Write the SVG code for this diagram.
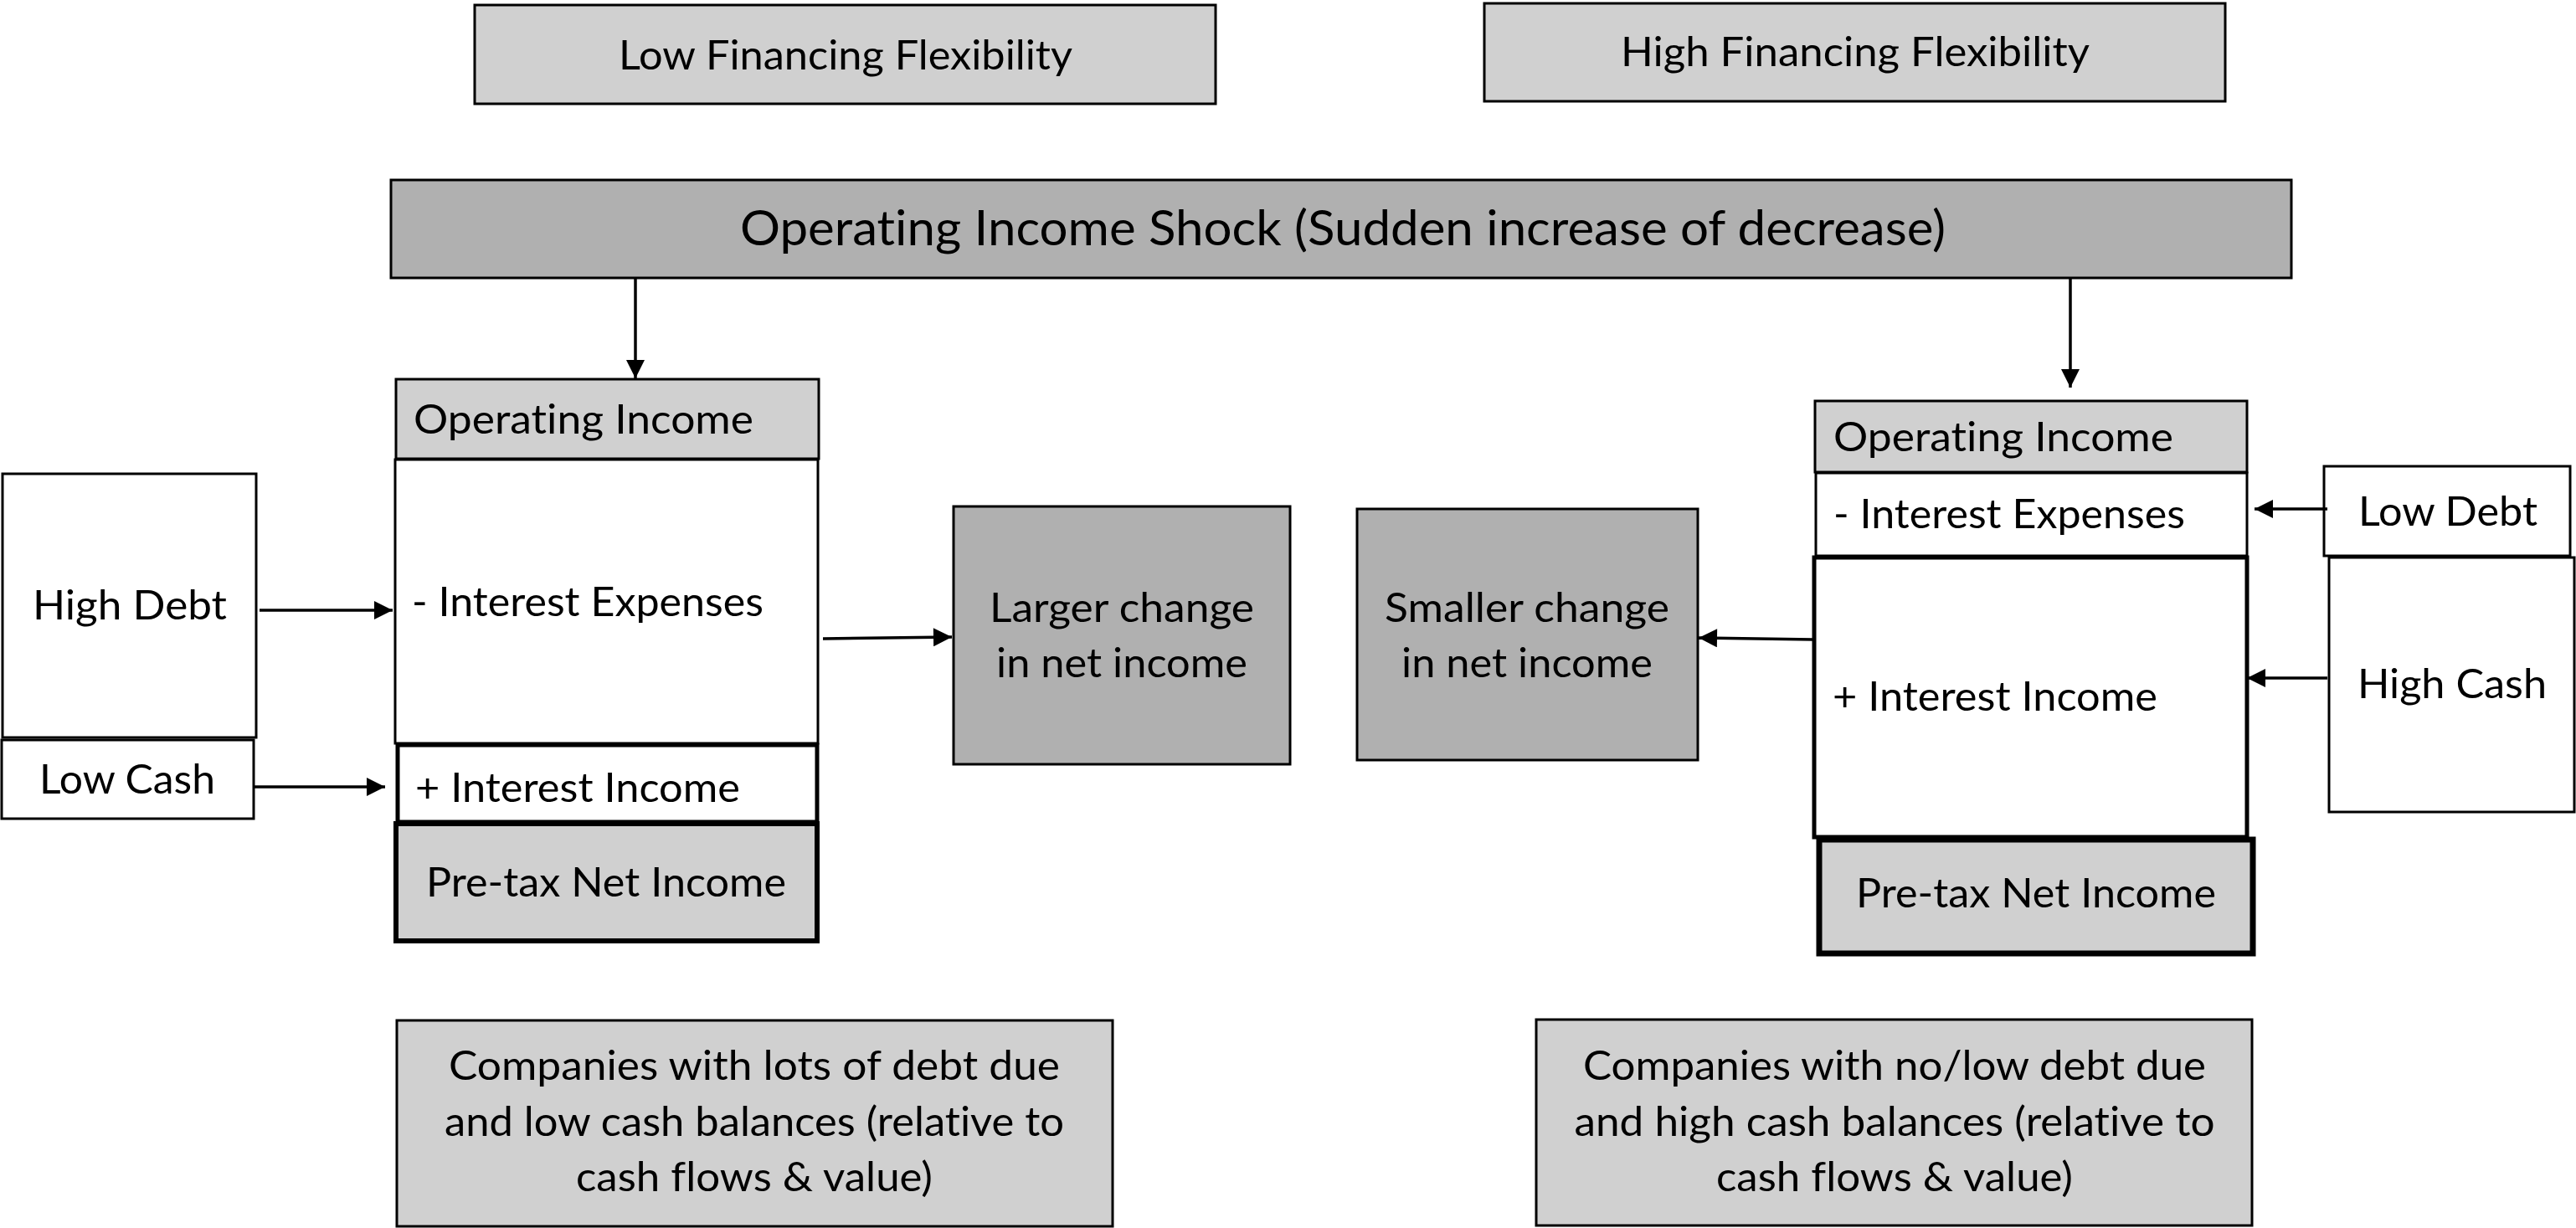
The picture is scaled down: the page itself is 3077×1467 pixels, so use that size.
<svg xmlns="http://www.w3.org/2000/svg" width="3077" height="1467" viewBox="0 0 3077 1467">
<defs>
<style>
text{font-family:Lato,"Noto Sans","Liberation Sans",sans-serif;fill:#000;font-size:48px;font-variant-ligatures:none}
.c{text-anchor:middle}
.lg{fill:#d0d0d0;stroke:#000;stroke-width:3}
.dg{fill:#b0b0b0;stroke:#000;stroke-width:3}
.w{fill:#fff;stroke:#000;stroke-width:3}
.conn{stroke:#000;stroke-width:3.5;fill:none;marker-end:url(#ah)}
</style>
<marker id="ah" viewBox="0 0 10 10" refX="10" refY="5" markerWidth="30" markerHeight="22" markerUnits="userSpaceOnUse" orient="auto">
<path d="M0,0 L10,5 L0,10 z" fill="#000"/>
</marker>
</defs>
<rect width="3077" height="1467" fill="#fff"/>

<g id="low-flex"><rect class="lg" x="567" y="6" width="885" height="118"/><text class="c" x="1010" y="83" textLength="542" lengthAdjust="spacingAndGlyphs">Low Financing Flexibility</text></g>
<g id="high-flex"><rect class="lg" x="1773" y="4" width="885" height="117"/><text class="c" x="2216" y="79" textLength="560" lengthAdjust="spacingAndGlyphs">High Financing Flexibility</text></g>
<g id="shock"><rect class="dg" x="467" y="215" width="2270" height="117"/><text class="c" x="1604" y="293" style="font-size:58px" textLength="1440" lengthAdjust="spacingAndGlyphs">Operating Income Shock (Sudden increase of decrease)</text></g>

<g id="l-opinc"><rect class="lg" x="473" y="453" width="505" height="95"/><text x="494" y="518" textLength="406" lengthAdjust="spacingAndGlyphs">Operating Income</text></g>
<g id="l-intexp"><rect class="w" x="472" y="549" width="505" height="339"/><text x="492" y="736" textLength="420" lengthAdjust="spacingAndGlyphs">- Interest Expenses</text></g>
<g id="l-intinc"><rect class="w" style="stroke-width:5" x="475" y="890" width="501" height="92"/><text x="496" y="958" textLength="388" lengthAdjust="spacingAndGlyphs">+ Interest Income</text></g>
<g id="l-pretax"><rect class="lg" style="stroke-width:6" x="473" y="984" width="503" height="140"/><text class="c" x="724" y="1071" textLength="430" lengthAdjust="spacingAndGlyphs">Pre-tax Net Income</text></g>

<g id="high-debt"><rect class="w" x="3" y="566" width="303" height="315"/><text class="c" x="155" y="740" textLength="232" lengthAdjust="spacingAndGlyphs">High Debt</text></g>
<g id="low-cash"><rect class="w" x="2" y="884" width="301" height="94"/><text class="c" x="152" y="948" textLength="210" lengthAdjust="spacingAndGlyphs">Low Cash</text></g>

<g id="larger"><rect class="dg" x="1139" y="605" width="402" height="308"/><text class="c" x="1340" y="743" textLength="316" lengthAdjust="spacingAndGlyphs">Larger change</text><text class="c" x="1340" y="809" textLength="300" lengthAdjust="spacingAndGlyphs">in net income</text></g>
<g id="smaller"><rect class="dg" x="1621" y="608" width="407" height="300"/><text class="c" x="1824" y="743" textLength="340" lengthAdjust="spacingAndGlyphs">Smaller change</text><text class="c" x="1824" y="809" textLength="300" lengthAdjust="spacingAndGlyphs">in net income</text></g>

<g id="r-opinc"><rect class="lg" x="2168" y="479" width="516" height="85"/><text x="2190" y="539" textLength="406" lengthAdjust="spacingAndGlyphs">Operating Income</text></g>
<g id="r-intexp"><rect class="w" x="2169" y="565" width="515" height="99"/><text x="2190" y="631" textLength="420" lengthAdjust="spacingAndGlyphs">- Interest Expenses</text></g>
<g id="r-intinc"><rect class="w" style="stroke-width:5" x="2167" y="666" width="517" height="334"/><text x="2189" y="849" textLength="388" lengthAdjust="spacingAndGlyphs">+ Interest Income</text></g>
<g id="r-pretax"><rect class="lg" style="stroke-width:7" x="2173" y="1003" width="518" height="136"/><text class="c" x="2432" y="1084" textLength="430" lengthAdjust="spacingAndGlyphs">Pre-tax Net Income</text></g>

<g id="low-debt"><rect class="w" x="2776" y="557" width="294" height="107"/><text class="c" x="2924" y="628" textLength="214" lengthAdjust="spacingAndGlyphs">Low Debt</text></g>
<g id="high-cash"><rect class="w" x="2782" y="666" width="293" height="304"/><text class="c" x="2929" y="834" textLength="226" lengthAdjust="spacingAndGlyphs">High Cash</text></g>

<g id="bl-note"><rect class="lg" x="474" y="1219" width="855" height="246"/><text class="c" x="901" y="1290" textLength="730" lengthAdjust="spacingAndGlyphs">Companies with lots of debt due</text><text class="c" x="901" y="1357" textLength="740" lengthAdjust="spacingAndGlyphs">and low cash balances (relative to</text><text class="c" x="901" y="1423" textLength="426" lengthAdjust="spacingAndGlyphs">cash flows &amp; value)</text></g>
<g id="br-note"><rect class="lg" x="1835" y="1218" width="855" height="246"/><text class="c" x="2263" y="1290" textLength="744" lengthAdjust="spacingAndGlyphs">Companies with no/low debt due</text><text class="c" x="2263" y="1357" textLength="765" lengthAdjust="spacingAndGlyphs">and high cash balances (relative to</text><text class="c" x="2263" y="1423" textLength="426" lengthAdjust="spacingAndGlyphs">cash flows &amp; value)</text></g>

<g id="connectors">
<line class="conn" x1="759" y1="332" x2="759" y2="452"/>
<line class="conn" x1="2473" y1="332" x2="2473" y2="463"/>
<line class="conn" x1="310" y1="729" x2="469" y2="729"/>
<line class="conn" x1="302" y1="940" x2="460" y2="940"/>
<line class="conn" x1="983" y1="763" x2="1137" y2="761"/>
<line class="conn" x1="2166" y1="764" x2="2029" y2="762"/>
<line class="conn" x1="2780" y1="608" x2="2693" y2="608"/>
<line class="conn" x1="2780" y1="810" x2="2684" y2="810"/>
</g>
</svg>
